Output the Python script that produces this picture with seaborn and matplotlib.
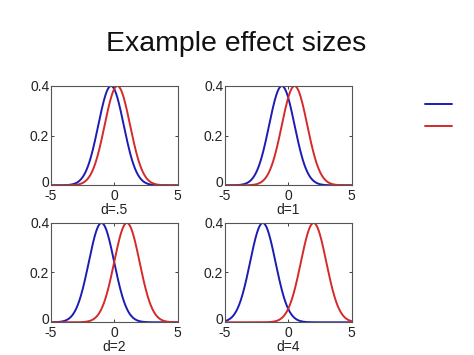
import numpy as np
import pandas as pd
import matplotlib
matplotlib.use("Agg")
import matplotlib.pyplot as plt
import matplotlib.transforms as mtransforms
import seaborn as sns

# Data
effect_sizes = [0.5, 1, 2, 4]
panel_labels = ["d=.5", "d=1", "d=2", "d=4"]
x_ticks = [-5, 0, 5]
y_ticks = [0, 0.2, 0.4]
y_tick_labels = ["0", "0.2", "0.4"]
x_tick_labels = ["-5", "0", "5"]
group_names = ["A", "B"]
group_colors = ["#1c1cb4", "#d42a2a"]

sns.set_theme(style="white")
plt.rcParams['font.family'] = ['Liberation Sans', 'DejaVu Sans']

fig = plt.figure(figsize=(4.74, 3.55), dpi=100)
W, H = 474, 355
boxes = [(50.7, 85.7), (224.7, 85.7), (50.7, 222.7), (224.7, 222.7)]
aw, ah = 127, 99.6

xs = np.linspace(-5, 5, 401)
for i, d in enumerate(effect_sizes):
    left, top = boxes[i]
    ax = fig.add_axes([left / W, 1 - (top + ah) / H, aw / W, ah / H])
    frames = []
    for g, mu in zip(group_names, [-d / 2, d / 2]):
        pdf = np.exp(-0.5 * (xs - mu) ** 2) / np.sqrt(2 * np.pi)
        frames.append(pd.DataFrame({"x": xs, "y": pdf, "g": g}))
    df = pd.concat(frames)
    sns.lineplot(data=df, x="x", y="y", hue="g", palette=group_colors,
                 ax=ax, legend=False, linewidth=1.4)
    ax.set_xlim(-5, 5)
    ax.set_ylim(0, 0.4)
    ax.set_xticks(x_ticks)
    ax.set_xticklabels(x_tick_labels)
    ax.set_yticks(y_ticks)
    ax.set_yticklabels(y_tick_labels)
    ax.tick_params(axis="x", pad=2.5)
    ax.tick_params(axis="y", pad=1)
    ax.tick_params(direction="in", length=2, width=0.6, labelsize=10,
                   colors="#222222", top=True, right=True,
                   bottom=True, left=True)
    # raise the "0" y label slightly, as in the reference
    lbl = ax.get_yticklabels()[0]
    lbl.set_transform(lbl.get_transform() +
                      mtransforms.ScaledTranslation(0, 4 / 100, fig.dpi_scale_trans))
    ax.set_xlabel(panel_labels[i], fontsize=10, labelpad=0, color="#222222")
    ax.set_ylabel("")
    for s in ax.spines.values():
        s.set_color("#555555")
        s.set_linewidth(0.8)

fig.text(236 / W, 1 - 44 / H, "Example effect sizes", ha="center",
         va="center", fontsize=20.5, color="#111111")

# legend lines (no labels)
lax = fig.add_axes([420 / W, 1 - 135 / H, 40 / W, 40 / H])
lax.set_axis_off()
lax.set_xlim(0, 40)
lax.set_ylim(0, 40)
for c, yv in zip(group_colors, [31, 9]):
    lax.plot([5, 32], [yv, yv], color=c, linewidth=1.4)

fig.savefig("out.png", dpi=100)
